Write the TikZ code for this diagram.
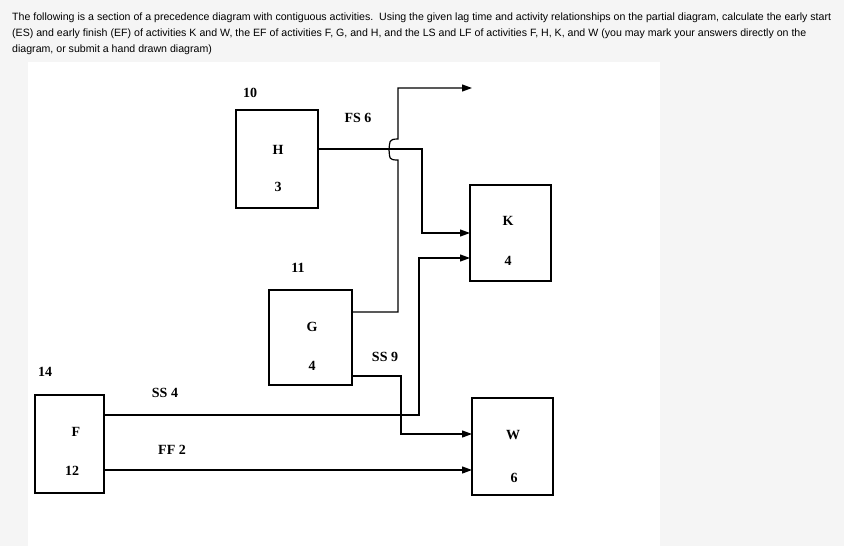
\documentclass[tikz,border=0pt]{standalone}
\usepackage{fontspec}
\setmainfont{Liberation Serif}
\newfontfamily\txt{Liberation Sans}
\usetikzlibrary{arrows.meta}
\begin{document}
\begin{tikzpicture}[x=1pt,y=-1pt,
  box/.style={draw,line width=1.2pt,inner sep=0pt},
  lab/.style={font=\fontsize{14}{16}\selectfont\bfseries},
  ln/.style={line width=1.2pt},
  arr/.style={ln,-{Triangle[length=10pt,width=7pt]}},
  intro/.style={anchor=west,font=\txt\fontsize{10.6}{12}\selectfont,inner sep=0pt}]
\useasboundingbox (0,0) rectangle (844,546);
\fill[gray!8] (0,0) rectangle (844,546);
\fill[white] (28,62) rectangle (660,546);
\node[intro] (t1) at (12,18) {The following is a section of a precedence diagram with contiguous activities.\ \ Using the given lag time and activity relationships on the partial diagram, calculate the early start};
\node[intro] (t2) at (12,34) {(ES) and early finish (EF) of activities K and W, the EF of activities F, G, and H, and the LS and LF of activities F, H, K, and W (you may mark your answers directly on the};
\node[intro] (t3) at (12,50) {diagram, or submit a hand drawn diagram)};
% boxes
\draw[box] (236,110) rectangle (318,208);
\draw[box] (269,290) rectangle (352,385);
\draw[box] (35,395) rectangle (104,493);
\draw[box] (470,185) rectangle (551,281);
\draw[box] (472,398) rectangle (553,495);
\coordinate (Hr) at (318,149);
\coordinate (Gr1) at (352,312);
\coordinate (Gr2) at (352,376);
\coordinate (Fr1) at (104,415);
\coordinate (Fr2) at (104,470);
\coordinate (Kl1) at (470,233);
\coordinate (Kl2) at (470,258);
\coordinate (Wl1) at (472,434);
\coordinate (Wl2) at (472,470);
\coordinate (out) at (472,88);
% labels
\node[lab] (n10) at (250,93) {10};
\node[lab] (fs6) at (358,118) {FS 6};
\node[lab] (hH) at (278,150) {H};
\node[lab] (h3) at (278,187) {3};
\node[lab] (n11) at (298,268) {11};
\node[lab] (gG) at (312,327) {G};
\node[lab] (g4) at (312,366) {4};
\node[lab] (ss9) at (385,357) {SS 9};
\node[lab] (kK) at (508,221) {K};
\node[lab] (k4) at (508,261) {4};
\node[lab] (n14) at (45,372) {14};
\node[lab] (ss4) at (165,393) {SS 4};
\node[lab] (fF) at (76,432) {F};
\node[lab] (ff2) at (172,450) {FF 2};
\node[lab] (f12) at (72,471) {12};
\node[lab] (wW) at (513,435) {W};
\node[lab] (w6) at (514,478) {6};
% connectors
\draw[arr] (Hr) -- (422,149) -- (422,233) -- (Kl1);
\draw[arr] (Gr1) -- (398,312) -- (398,160) .. controls (388,160) and (390,158) .. (389,150) .. controls (390,142) and (388,139) .. (398,139) -- (398,88) -- (out);
\draw[arr] (Gr2) -- (401,376) -- (401,434) -- (Wl1);
\draw[arr] (Fr1) -- (419,415) -- (419,258) -- (Kl2);
\draw[arr] (Fr2) -- (Wl2);
\end{tikzpicture}
\end{document}
